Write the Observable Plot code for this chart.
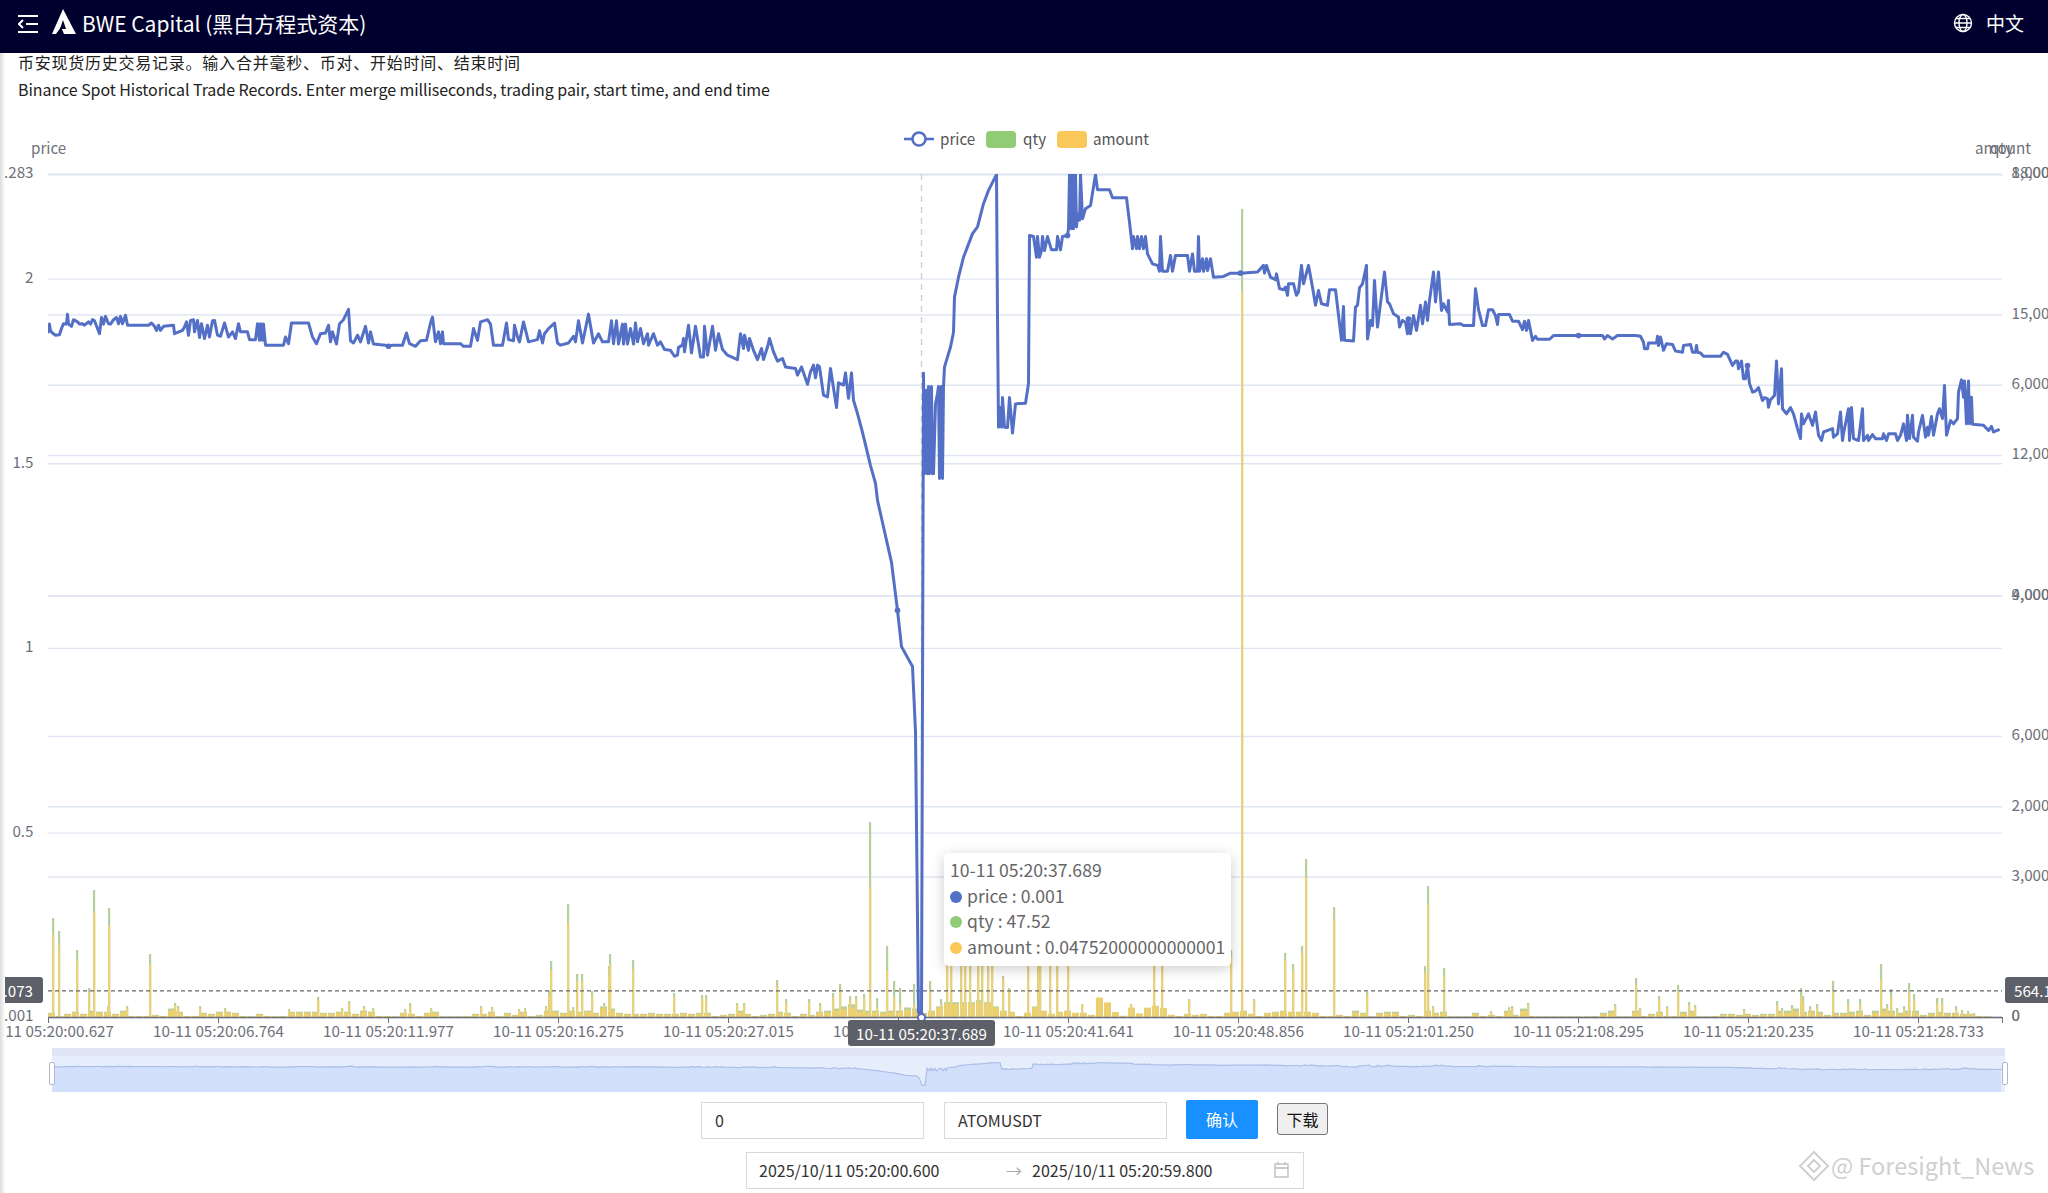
<!DOCTYPE html>
<html lang="zh">
<head>
<meta charset="utf-8">
<title>BWE Capital</title>
<script src="https://cdn.jsdelivr.net/npm/d3@7"></script>
<script src="https://cdn.jsdelivr.net/npm/@observablehq/plot@0.6"></script>
<style>
html,body{margin:0;padding:0;background:#fff;width:2048px;height:1193px;overflow:hidden;font-family:"Noto Sans CJK SC","Noto Sans",sans-serif;color:#222}
.abs{position:absolute;white-space:nowrap}
#header{position:absolute;left:0;top:0;width:2048px;height:53px;background:#00002e;color:#fff}
#edge{position:absolute;left:0;top:53px;width:5px;height:1140px;background:linear-gradient(90deg,#dcdcdc,#fff);z-index:5}
.axn{color:#6E7079;font-size:15.2px;line-height:18px}
.lg{color:#555;font-size:15.2px;line-height:18px}
.sw{position:absolute;border-radius:4px;height:17px;width:30px}
#tip{position:absolute;left:944px;top:853px;width:287px;height:113px;background:rgba(255,255,255,.97);border-radius:5px;box-shadow:0 3px 14px rgba(0,0,0,.2);color:#666;font-size:17.6px;z-index:3}
#tip div{position:absolute;left:6px;white-space:nowrap;line-height:24px}
#tip i{position:absolute;left:6px;width:12px;height:12px;border-radius:50%}
.pl{position:absolute;background:#5d6068;color:#fff;font-size:15.2px;line-height:26px;height:26px;border-radius:3px;text-align:center;z-index:4;white-space:nowrap;overflow:hidden}
.inp{position:absolute;border:1px solid #d9d9d9;box-sizing:border-box;background:#fff;font-size:16px;color:#333;line-height:34px;padding-left:13px}
</style>
</head>
<body>
<div id="header">
  <svg class="abs" style="left:18px;top:15px" width="20" height="18" viewBox="0 0 20 18" fill="none" stroke="#fff" stroke-width="2"><path d="M0 1h20M8 9h12M0 17h20M5 5 1 9l4 4"/></svg>
  <svg class="abs" style="left:51px;top:9px" width="26" height="26" viewBox="0 0 26 26"><path d="M12 0 25 25H13l-3-7-5 7H1z" fill="#fff"/><path d="M12 11l3 9h-6z" fill="#00002e"/></svg>
  <div class="abs" style="left:82px;top:8px;font-size:21px;line-height:30px">BWE Capital (黑白方程式资本)</div>
  <svg class="abs" style="left:1953px;top:13px" width="20" height="20" viewBox="0 0 20 20" fill="none" stroke="#fff" stroke-width="1.4"><circle cx="10" cy="10" r="8.5"/><ellipse cx="10" cy="10" rx="4" ry="8.5"/><path d="M1.5 10h17M3 5.5h14M3 14.500h14"/></svg>
  <div class="abs" style="left:1986px;top:9px;font-size:19px;line-height:28px">中文</div>
</div>
<div id="edge"></div>
<div class="abs" style="left:18px;top:50px;font-size:16px;line-height:24px;letter-spacing:.76px">币安现货历史交易记录。输入合并毫秒、币对、开始时间、结束时间</div>
<div class="abs" style="left:18px;top:77px;font-size:16px;line-height:24px;letter-spacing:-.065px">Binance Spot Historical Trade Records. Enter merge milliseconds, trading pair, start time, and end time</div>

<div id="chart" style="position:absolute;left:0;top:120px"></div>
<div id="mini" style="position:absolute;left:52px;top:1048px;width:1953px;height:44px;overflow:hidden;background:linear-gradient(#dfe5f4 0 8px,#e6eefc 8px 44px)"></div>

<div class="abs axn" style="left:31px;top:138px">price</div>
<div class="abs axn" style="left:1975px;top:138px">amount</div>
<div class="abs axn" style="left:1990px;top:138px">qty</div>

<svg class="abs" style="left:904px;top:130px" width="30" height="18" viewBox="0 0 30 18"><path d="M0 9h30" stroke="#5470c6" stroke-width="2.6"/><circle cx="15" cy="9" r="6.500" fill="#fff" stroke="#5470c6" stroke-width="2.6"/></svg>
<div class="abs lg" style="left:940px;top:129px">price</div>
<div class="sw" style="left:986px;top:131px;background:#91cc75"></div>
<div class="abs lg" style="left:1023px;top:129px">qty</div>
<div class="sw" style="left:1057px;top:131px;background:#fac858"></div>
<div class="abs lg" style="left:1093px;top:129px">amount</div>

<div id="tip">
  <div style="top:5px">10-11 05:20:37.689</div>
  <i style="top:38px;background:#5470c6"></i><div style="left:23px;top:31px">price : 0.001</div>
  <i style="top:63px;background:#91cc75"></i><div style="left:23px;top:56px">qty : 47.52</div>
  <i style="top:89px;background:#fac858"></i><div style="left:23px;top:82px">amount : 0.04752000000000001</div>
</div>
<div class="pl" style="left:-8px;top:977px;width:41px;padding-right:10px;padding-left:0;text-align:right;box-sizing:content-box">0.073</div>
<div class="pl" style="left:2005px;top:977px;width:60px;text-align:left;padding-left:9px">564.1</div>
<div class="pl" style="left:848px;top:1020px;width:147px">10-11 05:20:37.689</div>

<div class="inp" style="left:701px;top:1102px;width:223px;height:37px">0</div>
<div class="inp" style="left:944px;top:1102px;width:223px;height:37px">ATOMUSDT</div>
<div class="abs" style="left:1186px;top:1100px;width:72px;height:39px;background:#1890ff;color:#fff;font-size:16px;line-height:39px;text-align:center;border-radius:2px">确认</div>
<div class="abs" style="left:1277px;top:1103px;width:51px;height:32px;background:#efefef;border:1px solid #767676;box-sizing:border-box;color:#111;font-size:16px;line-height:30px;text-align:center;border-radius:3px">下载</div>
<div class="inp" style="left:746px;top:1152px;width:558px;height:37px"></div>
<div class="abs" style="left:759px;top:1158px;font-size:16px;line-height:24px;color:#333">2025/10/11 05:20:00.600</div>
<div class="abs" style="left:1006px;top:1158px;font-size:16px;line-height:24px;color:#aaa">→</div>
<div class="abs" style="left:1032px;top:1158px;font-size:16px;line-height:24px;color:#333">2025/10/11 05:20:59.800</div>
<svg class="abs" style="left:1274px;top:1162px" width="15" height="16" viewBox="0 0 15 16" fill="none" stroke="#bbb" stroke-width="1.300"><rect x="1" y="2" width="13" height="13"/><path d="M1 6h13M4 0v3M11 0v3"/></svg>
<svg class="abs" style="left:1798px;top:1150px" width="32" height="32" viewBox="0 0 32 32" fill="none" stroke="#d0d0d0" stroke-width="2"><path d="M16 2 30 16 16 30 2 16zM16 10l6 6-6 6-6-6z"/></svg>
<div class="abs" style="left:1831px;top:1148px;font-size:23.5px;line-height:34px;color:#cfcfcf">@ Foresight_News</div>

<script>
// Price trace: [trade index along the category axis, price]
const priceTrace = [[0,1.857],[1,1.878],[2,1.860],[4,1.854],[7,1.848],[11,1.849],[13,1.866],[15,1.879],[18,1.878],[19,1.905],[20,1.878],[23,1.872],[25,1.890],[29,1.884],[31,1.878],[34,1.879],[36,1.875],[40,1.884],[42,1.878],[44,1.890],[46,1.887],[49,1.866],[51,1.852],[53,1.896],[55,1.878],[57,1.899],[60,1.879],[62,1.878],[65,1.890],[68,1.896],[70,1.879],[72,1.899],[74,1.879],[77,1.902],[79,1.875],[100,1.875],[103,1.881],[106,1.872],[108,1.861],[110,1.875],[112,1.861],[115,1.872],[125,1.875],[126,1.852],[134,1.861],[136,1.870],[138,1.884],[140,1.848],[142,1.888],[145,1.890],[146,1.857],[149,1.888],[151,1.842],[153,1.879],[156,1.839],[159,1.875],[161,1.843],[164,1.887],[166,1.888],[169,1.848],[172,1.845],[176,1.881],[180,1.843],[184,1.857],[187,1.839],[190,1.879],[192,1.857],[199,1.857],[201,1.836],[207,1.836],[209,1.879],[211,1.834],[212,1.879],[214,1.834],[215,1.878],[217,1.821],[235,1.821],[237,1.843],[240,1.825],[243,1.881],[260,1.881],[264,1.843],[268,1.825],[272,1.852],[277,1.854],[280,1.875],[282,1.830],[284,1.857],[288,1.824],[291,1.879],[295,1.890],[300,1.918],[302,1.833],[305,1.827],[309,1.848],[312,1.830],[317,1.872],[320,1.827],[322,1.857],[325,1.824],[337,1.821],[340,1.818],[344,1.821],[354,1.821],[358,1.854],[361,1.825],[367,1.818],[372,1.833],[378,1.834],[382,1.881],[384,1.897],[387,1.830],[390,1.857],[392,1.825],[394,1.857],[395,1.825],[412,1.825],[415,1.818],[422,1.818],[425,1.866],[429,1.834],[432,1.884],[437,1.888],
[439,1.890],[442,1.878],[445,1.821],[454,1.821],[458,1.881],[460,1.836],[465,1.833],[466,1.875],[469,1.843],[471,1.830],[475,1.884],[480,1.830],[489,1.836],[491,1.860],[494,1.827],[496,1.852],[500,1.866],[506,1.881],[509,1.827],[512,1.821],[520,1.827],[525,1.845],[527,1.830],[530,1.887],[534,1.827],[540,1.905],[545,1.827],[550,1.852],[554,1.830],[560,1.830],[563,1.887],[565,1.825],[568,1.887],[570,1.824],[574,1.878],[575,1.824],[577,1.878],[579,1.824],[582,1.866],[585,1.824],[587,1.881],[589,1.830],[592,1.866],[595,1.825],[599,1.852],[600,1.821],[605,1.852],[609,1.821],[612,1.830],[616,1.809],[622,1.807],[626,1.791],[629,1.794],[630,1.815],[634,1.821],[635,1.839],[636,1.803],[640,1.875],[643,1.800],[647,1.872],[652,1.789],[655,1.789],[656,1.872],[659,1.794],[664,1.872],[667,1.807],[670,1.852],[674,1.809],[679,1.794],[689,1.782],[692,1.852],[695,1.812],[696,1.848],[700,1.807],[701,1.839],[705,1.807],[709,1.782],[713,1.812],[715,1.782],[719,1.816],[721,1.839],[725,1.803],[729,1.778],[734,1.785],[737,1.762],[747,1.758],[749,1.740],[753,1.762],[759,1.715],[762,1.749],[765,1.767],[767,1.733],[769,1.767],[771,1.762],[775,1.686],[779,1.681],[782,1.758],[788,1.652],[790,1.719],[795,1.713],[797,1.746],[800,1.677],[803,1.746],[805,1.672],[809,1.636],[814,1.585],[822,1.495],[827,1.447],[829,1.401],[834,1.341],[843,1.233],[849,1.103],[853,1.005],[864,0.951],[867,0.775],[870,0.015],[873,0.001],
[875,1.745],[876,1.473],[878,1.699],[879,1.473],[880,1.709],[881,1.473],[883,1.709],[884,1.473],[885,1.473],[887,1.662],[889,1.690],[890,1.709],[891,1.460],[893,1.709],[894,1.460],[895,1.709],[896,1.762],[897,1.771],[902,1.816],[905,1.856],[906,1.951],[910,2.005],[915,2.059],[924,2.123],[929,2.141],[935,2.204],[940,2.240],[948,2.283],[949,1.897],[950,1.599],[951,1.653],[953,1.599],[954,1.679],[956,1.599],[959,1.598],[961,1.679],[964,1.583],[967,1.662],[977,1.664],[980,1.717],[981,2.118],[985,2.115],[988,2.059],[989,2.115],[991,2.059],[993,2.077],[994,2.115],[996,2.077],[999,2.115],[1003,2.079],[1008,2.079],[1009,2.115],[1012,2.079],[1014,2.115],[1019,2.118],[1020,2.136],[1021,2.283],[1023,2.136],[1024,2.283],[1025,2.136],[1027,2.283],[1028,2.141],[1029,2.177],[1031,2.159],[1032,2.283],[1034,2.163],[1037,2.190],[1042,2.199],[1047,2.283],[1049,2.242],[1061,2.242],[1064,2.220],[1078,2.220],[1081,2.154],[1084,2.082],[1085,2.115],[1088,2.082],[1089,2.115],[1091,2.082],[1093,2.115],[1095,2.082],[1097,2.115],[1099,2.068],[1104,2.041],[1109,2.037],[1111,2.021],[1112,2.115],[1114,2.021],[1119,2.021],[1122,2.064],[1124,2.021],[1127,2.064],[1139,2.064],[1141,2.021],[1144,2.068],[1146,2.021],[1149,2.021],[1150,2.115],[1151,2.021],[1154,2.055],[1155,2.021],[1158,2.055],[1159,2.023],[1162,2.055],[1165,2.005],[1175,2.007],[1182,2.016],[1192,2.016],[1209,2.019],[1215,2.037],[1216,2.016],[1218,2.037],[1222,2.005],[1227,1.998],[1228,2.014],[1231,1.974],[1235,1.971],[1237,1.978],[1239,1.956],[1240,1.987],[1245,1.987],[1248,1.956],[1250,1.965],[1253,2.037],[1255,1.987],[1260,2.037],[1264,1.978],[1267,1.929],[1270,1.969],[1273,1.933],[1279,1.929],[1281,1.971],[1287,1.971],[1293,1.834],[1295,1.926],[1296,1.834],[1305,1.832],[1307,1.924],[1309,1.929],[1311,1.976],[1314,1.987],[1318,2.037],[1319,1.838],[1322,1.888],[1324,1.874],[1326,1.996],[1329,1.870],[1336,2.019],[1339,1.938],[1341,1.933],[1345,1.906],[1350,1.897],[1351,1.870],[1354,1.888],[1357,1.883],[1359,1.852],[1360,1.892],[1362,1.852],[1365,1.901],[1368,1.861],[1372,1.929],[1374,1.879],[1377,1.938],[1379,1.888],[1381,1.942],[1385,2.019],[1387,1.938],[1390,2.019],[1393,1.915],[1395,1.933],[1399,1.911],[1400,1.942],[1401,1.877],[1412,1.879],[1415,1.874],[1425,1.874],[1427,1.974],[1430,1.917],[1434,1.874],[1437,1.874],[1440,1.917],[1444,1.917],[1447,1.901],[1449,1.877],[1450,1.904],[1461,1.904],[1464,1.886],[1470,1.886],[1474,1.863],[1476,1.886],[1478,1.861],[1480,1.888],[1484,1.834],[1487,1.845],[1489,1.837],[1501,1.837],[1505,1.847],[1530,1.847],[1554,1.847],[1556,1.838],[1559,1.847],[1564,1.838],[1569,1.847],[1587,1.847],[1592,1.845],[1595,1.829],[1596,1.811],[1599,1.811],[1600,1.827],[1608,1.827],[1609,1.845],[1610,1.820],[1612,1.843],[1615,1.807],[1618,1.825],[1624,1.823],[1627,1.805],[1634,1.802],[1635,1.820],[1642,1.823],[1644,1.802],[1647,1.802],[1648,1.820],[1649,1.802],[1652,1.800],[1655,1.791],[1672,1.791],[1675,1.802],[1679,1.796],[1684,1.766],[1687,1.778],[1689,1.778],[1690,1.757],[1693,1.778],[1695,1.730],[1697,1.730],[1699,1.766],[1701,1.717],[1704,1.694],[1707,1.697],[1710,1.706],[1714,1.671],[1716,1.679],[1719,1.676],[1720,1.653],[1722,1.673],[1726,1.685],[1728,1.778],[1730,1.662],[1733,1.757],[1734,1.649],[1738,1.635],[1742,1.652],[1745,1.635],[1749,1.595],[1752,1.568],[1753,1.635],[1755,1.608],[1760,1.635],[1764,1.604],[1767,1.640],[1770,1.577],[1773,1.563],[1775,1.586],[1784,1.595],[1785,1.572],[1789,1.581],[1792,1.640],[1794,1.563],[1795,1.581],[1800,1.649],[1801,1.563],[1803,1.652],[1805,1.568],[1810,1.563],[1814,1.649],[1815,1.563],[1819,1.577],[1820,1.563],[1824,1.579],[1827,1.568],[1834,1.568],[1835,1.581],[1838,1.563],[1840,1.581],[1847,1.581],[1849,1.563],[1852,1.577],[1855,1.608],[1858,1.563],[1859,1.631],[1861,1.568],[1864,1.631],[1865,1.572],[1869,1.561],[1870,1.586],[1874,1.631],[1877,1.572],[1879,1.599],[1880,1.577],[1883,1.628],[1885,1.577],[1889,1.635],[1891,1.649],[1894,1.622],[1896,1.712],[1898,1.577],[1902,1.617],[1905,1.608],[1909,1.622],[1910,1.694],[1913,1.727],[1915,1.680],[1916,1.724],[1918,1.608],[1920,1.724],[1921,1.608],[1923,1.680],[1924,1.607],[1935,1.604],[1940,1.590],[1943,1.601],[1945,1.586],[1950,1.592]];

// Tall individual bars: trade index, qty, amount
const spikeIdx = [4,10,28,40,45,59,60,78,101,126,129,151,176,240,269,293,300,315,324,356,361,382,432,443,470,476,497,500,502,519,524,528,533,543,555,560,561,584,625,653,657,688,695,728,737,760,771,784,791,801,807,815,821,828,838,845,851,865,881,892,898,902,912,916,921,929,933,939,943,954,960,979,989,991,1001,1008,1019,1033,1082,1105,1113,1140,1182,1193,1205,1236,1244,1253,1257,1285,1318,1376,1379,1384,1395,1442,1460,1463,1479,1566,1587,1591,1610,1618,1629,1640,1646,1695,1728,1733,1743,1752,1754,1761,1768,1784,1799,1811,1832,1838,1842,1848,1855,1860,1865,1888,1893,1907,1913,1919,1925];
const spikeQty = [940,816,636,275,1205,104,1034,104,598,133,104,104,85,76,190,85,152,104,85,76,133,85,104,95,76,85,104,247,531,1072,95,408,408,247,133,484,598,541,228,209,209,133,133,351,171,171,133,228,313,199,199,218,1850,180,674,342,275,313,342,171,640,620,660,700,650,680,630,660,640,389,275,570,590,570,580,600,570,123,123,570,590,171,636,7669,171,607,503,674,1500,1044,237,484,1243,104,465,57,95,104,133,123,370,85,199,104,304,142,114,76,152,85,114,275,199,104,123,342,171,171,503,123,266,85,104,323,218,180,180,104,66,57,38];
const spikeAmount = [1770,1530,1195,517,2230,196,1945,196,1124,250,196,196,160,143,357,160,286,196,160,143,250,160,196,178,143,160,196,464,998,2015,178,767,767,464,250,910,1124,1017,428,393,393,250,250,660,321,321,250,428,590,375,375,410,2775,200,1000,420,270,280,560,270,1240,1280,1300,1380,1300,1420,1300,1390,1340,830,600,1260,1300,1260,1280,1320,1260,270,270,1200,1240,370,1290,15490,345,1220,1010,1355,2990,2090,470,930,2410,200,880,105,176,193,245,228,680,155,360,188,545,255,205,130,255,142,190,450,325,170,200,550,272,272,800,195,420,135,165,510,345,285,285,165,105,90,60];

// Low activity read in consecutive runs of 8 trades
const lowQty = [40,10,30,50,30,60,50,50,30,60,10,10,10,20,10,80,50,10,10,40,30,50,50,40,10,5,30,10,5,10,50,50,50,50,40,40,50,50,30,60,50,10,10,5,40,30,10,40,50,5,5,5,5,30,30,50,5,40,20,50,5,20,60,60,40,60,50,60,40,100,80,40,30,30,30,40,30,30,30,40,30,
40,40,10,20,30,60,30,10,20,30,50,40,10,30,20,50,60,80,100,120,70,60,60,50,60,60,90,80,40,60,100,140,140,140,140,160,140,100,60,50,10,40,100,60,30,50,60,40,40,20,160,120,40,10,80,30,80,100,80,20,10,30,20,30,10,10,40,50,60,30,10,40,50,60,50,50,50,40,10,10,20,
10,60,40,5,40,50,50,10,20,10,60,40,50,5,5,5,40,10,20,10,60,20,80,10,5,5,5,5,5,5,5,10,40,60,5,5,60,10,30,50,10,10,50,60,5,5,10,30,30,20,30,20,30,30,60,60,80,50,60,50,20,40,40,50,60,20,60,80,60,40,60,60,20,40,50,40,40,30,30,10,5];
const lowAmount = [72,18,54,90,54,108,90,90,54,108,18,18,18,36,18,144,90,18,18,72,54,90,90,72,18,9,54,18,9,18,90,90,90,90,72,72,90,90,54,108,90,18,18,9,72,54,18,72,90,9,9,9,9,54,54,90,9,72,36,90,9,36,108,108,72,108,90,108,72,180,144,72,54,54,54,72,54,54,54,72,54,
68,68,17,34,51,102,51,17,34,51,85,68,17,51,34,85,102,136,170,204,119,102,102,85,102,102,153,136,68,120,200,280,280,280,290,320,290,210,125,105,20,85,210,125,65,105,125,85,85,42,416,312,104,26,200,75,200,240,190,45,20,60,40,60,20,20,80,100,120,60,20,80,100,120,100,100,100,80,20,20,40,
17,102,68,9,68,85,85,17,34,17,102,68,85,9,9,9,68,17,34,17,100,33,132,16,8,8,8,8,8,8,8,16,64,96,8,8,96,16,48,80,16,16,78,94,8,8,15,45,45,30,45,30,45,45,90,90,120,75,90,75,30,60,60,75,90,30,90,120,90,60,90,90,30,60,75,60,60,45,45,15,8];

const timeLabels = ["10-11 05:20:00.627","10-11 05:20:06.764","10-11 05:20:11.977","10-11 05:20:16.275","10-11 05:20:27.015","10-11 05:20:35.172","10-11 05:20:41.641","10-11 05:20:48.856","10-11 05:21:01.250","10-11 05:21:08.295","10-11 05:21:20.235","10-11 05:21:28.733"];
const priceTicks = [0.001,0.5,1,1.5,2,2.283];
const qtyTicks = [0,2000,4000,6000,8000];
const amountTicks = [0,3000,6000,9000,12000,15000,18000];
const markedIdx = [340,849,1019,1192,1360,1530,1699];

const idxTotal = 1954, tickEvery = 170;
const pMin = 0.001, pMax = 2.283, qtyMax = 8000, amountMax = 18000;
const fromQty = v => pMin + v / qtyMax * (pMax - pMin);
const fromAmount = v => pMin + v / amountMax * (pMax - pMin);
const grey = "#6E7079", font = '"Noto Sans CJK SC","Noto Sans",sans-serif';

const spikes = spikeIdx.map((i, k) => ({i, q: spikeQty[k], a: spikeAmount[k]}));
const lows = lowQty.map((q, k) => ({i: k * 8, q, a: lowAmount[k]}));
const tickIdx = timeLabels.map((_, k) => k * tickEvery).concat(idxTotal);
const gridVals = [...priceTicks, ...qtyTicks.map(fromQty), ...amountTicks.map(fromAmount)];
const markedPts = priceTrace.filter(d => markedIdx.includes(d[0]));
const fmt = d3.format(",");

const chart = Plot.plot({
  width: 2048, height: 960,
  marginLeft: 48, marginRight: 46, marginTop: 54, marginBottom: 63,
  style: {fontFamily: font, fontSize: "15.2px", background: "transparent", overflow: "visible"},
  x: {domain: [0, idxTotal], axis: null},
  y: {domain: [pMin, pMax], axis: null},
  marks: [
    Plot.ruleY(gridVals, {stroke: "#E0E6F1", strokeWidth: 1.3}),
    Plot.rectY(lows, {x1: "i", x2: d => d.i + 7, y1: pMin, y2: d => fromQty(d.q), fill: "#b6cf9d"}),
    Plot.rectY(spikes, {x1: "i", x2: d => d.i + 2.2, y1: pMin, y2: d => fromQty(d.q), fill: "#b6cf9d"}),
    Plot.rectY(lows, {x1: "i", x2: d => d.i + 7, y1: pMin, y2: d => fromAmount(d.a), fill: "#eccf6e"}),
    Plot.rectY(spikes, {x1: "i", x2: d => d.i + 2.2, y1: pMin, y2: d => fromAmount(d.a), fill: "#e8d27c"}),
    Plot.ruleX([873], {stroke: "#ccc", strokeWidth: 1.3, strokeDasharray: "6,5"}),
    Plot.ruleY([0.073], {stroke: "#666", strokeWidth: 1.3, strokeDasharray: "4,3"}),
    Plot.ruleY([pMin], {stroke: grey, strokeWidth: 1.3}),
    Plot.line(priceTrace, {x: d => d[0], y: d => d[1], stroke: "#5470c6", strokeWidth: 3, curve: "linear", clip: true}),
    Plot.dot(markedPts, {x: d => d[0], y: d => d[1], r: 2.8, fill: "#5470c6"}),
    Plot.dot([[873, 0.001]], {x: d => d[0], y: d => d[1], r: 3.6, fill: "#fff", stroke: "#5470c6", strokeWidth: 2}),
    Plot.axisX({ticks: tickIdx, tickSize: 6, tickPadding: 3, color: grey, label: null,
      tickFormat: i => timeLabels[i / tickEvery] ?? ""}),
    Plot.axisY({ticks: priceTicks, tickSize: 0, tickPadding: 15, color: grey, label: null, dy: -1,
      tickFormat: d => String(d)}),
    Plot.text(qtyTicks, {y: fromQty, text: fmt, frameAnchor: "right", textAnchor: "start", dx: 9, dy: -1, fill: grey}),
    Plot.text(amountTicks, {y: fromAmount, text: fmt, frameAnchor: "right", textAnchor: "start", dx: 9, dy: -1, fill: grey})
  ]
});
document.getElementById("chart").append(chart);

const mini = Plot.plot({
  width: 1953, height: 44,
  marginLeft: 0, marginRight: 0, marginTop: 14, marginBottom: 0,
  style: {background: "transparent", position: "absolute", left: "0", top: "0"},
  x: {domain: [0, idxTotal], axis: null},
  y: {domain: [-0.7, pMax], axis: null},
  marks: [
    Plot.areaY(priceTrace, {x: d => d[0], y1: -0.7, y2: d => d[1], fill: "#d2e0fb"}),
    Plot.line(priceTrace, {x: d => d[0], y: d => d[1], stroke: "#aebfe8", strokeWidth: 1.2})
  ]
});
document.getElementById("mini").append(mini);
for (const x of [49, 2002]) {
  const h = document.createElement("div");
  h.style.cssText = `position:absolute;left:${x}px;top:1062px;width:6px;height:23px;background:#fff;border:1px solid #acb8d1;border-radius:2px;box-sizing:border-box;z-index:2`;
  document.body.append(h);
}
</script>
</body>
</html>
